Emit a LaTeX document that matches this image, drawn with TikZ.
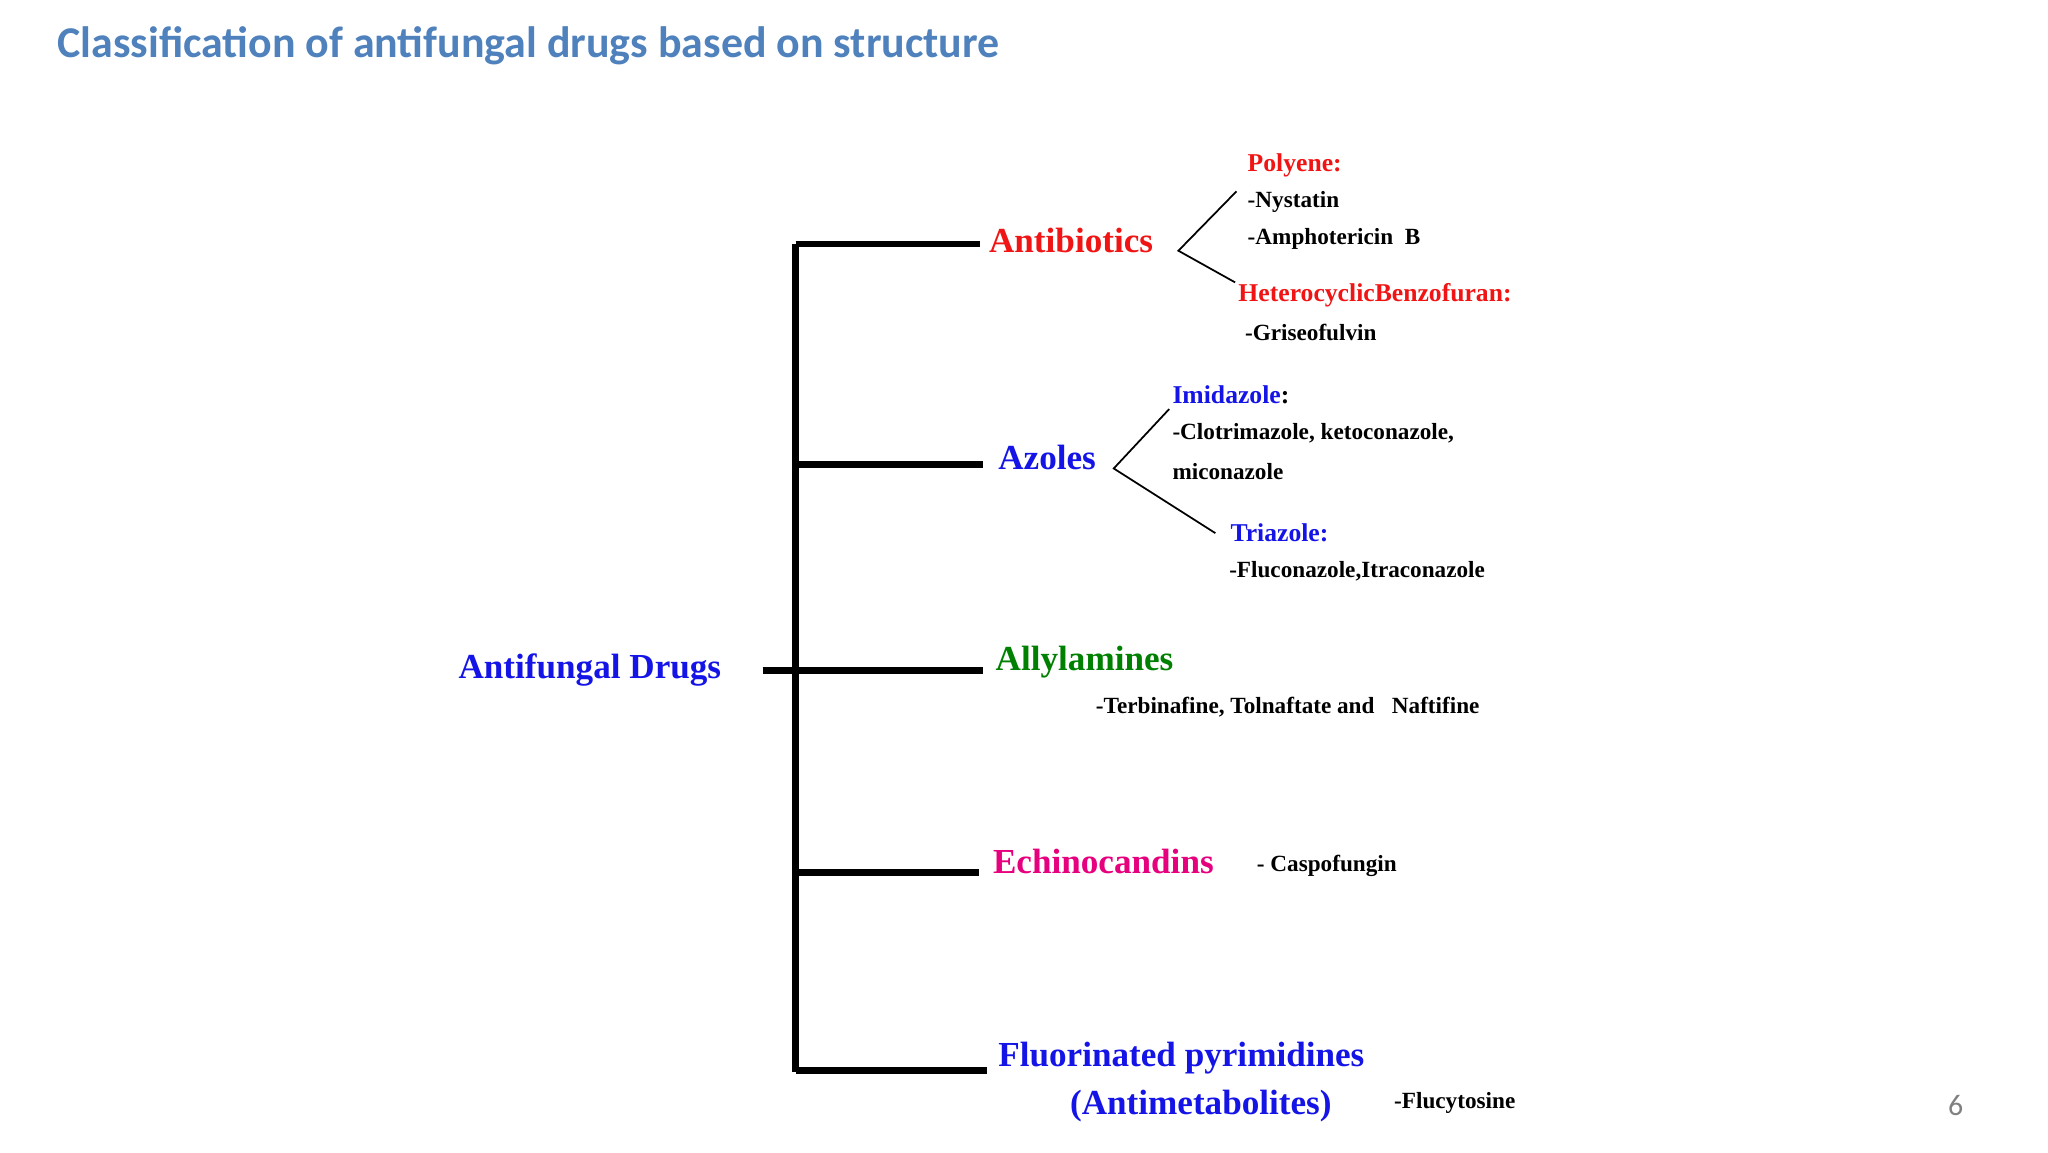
\documentclass[tikz,border=0pt]{standalone}
\usepackage{fontspec}
\setmainfont{Liberation Serif}
\newfontfamily\carl{Carlito}
\definecolor{titleblue}{RGB}{79,129,189}
\definecolor{dblue}{RGB}{20,20,230}
\definecolor{dred}{RGB}{240,20,20}
\definecolor{dgreen}{RGB}{0,128,0}
\definecolor{dpink}{RGB}{230,0,126}
\begin{document}
\begin{tikzpicture}[x=0.013196cm,y=-0.013196cm,
  bar/.style={line width=1.9pt},
  thin/.style={line width=0.5pt},
  big/.style={font=\bfseries\fontsize{10}{12}\selectfont,inner sep=0pt},
  sub/.style={font=\bfseries\fontsize{7.3}{9}\selectfont,inner sep=0pt,anchor=west},
  item/.style={font=\bfseries\fontsize{6.6}{8}\selectfont,inner sep=0pt,anchor=west}]
\useasboundingbox (0,0) rectangle (1552,873);
\node[anchor=west,inner sep=0pt,text=titleblue,font=\carl\bfseries\fontsize{12.5}{14}\selectfont] (title) at (43,35) {Classification of antifungal drugs based on structure};
\node[big,text=dblue] (root) at (447,508) {Antifungal Drugs};
\coordinate (t) at (603,185);
\coordinate (b) at (603,812);
\coordinate (h1) at (743,185);
\coordinate (h2a) at (603,352); \coordinate (h2) at (745,352);
\coordinate (h3a) at (578,508); \coordinate (h3) at (745,508);
\coordinate (h4a) at (600,661); \coordinate (h4) at (742,661);
\coordinate (h5) at (748,811);
\draw[bar] (t) -- (b);
\draw[bar] (t) -- (h1);
\draw[bar] (h2a) -- (h2);
\draw[bar] (h3a) -- (h3);
\draw[bar] (h4a) -- (h4);
\draw[bar] (603,811) -- (h5);
\node[big,anchor=west,text=dred] (anti) at (749,182) {Antibiotics};
\node[big,anchor=west,text=dblue] (azo) at (756,347) {Azoles};
\node[big,anchor=west,text=dgreen] (ally) at (754,502) {Allylamines};
\node[big,anchor=west,text=dpink] (echi) at (752,653) {Echinocandins};
\node[big,anchor=west,text=dblue] (fluo) at (756,802) {Fluorinated pyrimidines};
\node[big,text=dblue] (fluo2) at (910,838) {(Antimetabolites)};
\coordinate (ab) at (893,190);
\coordinate (ab1) at (937,145);
\coordinate (ab2) at (936,214);
\draw[thin] (ab1) -- (ab) -- (ab2);
\node[sub,text=dred] (poly) at (945,125) {Polyene:};
\node[item] (nys) at (945,153) {-Nystatin};
\node[item] (amp) at (945,181) {-Amphotericin\ \ B};
\node[sub,text=dred] (het) at (938,224) {HeterocyclicBenzofuran:};
\node[item] (gri) at (943,252) {-Griseofulvin};
\coordinate (az) at (844,355);
\coordinate (az1) at (886,310);
\coordinate (az2) at (921,404);
\draw[thin] (az1) -- (az) -- (az2);
\node[sub] (imi) at (888,299) {\textcolor{dblue}{Imidazole}:};
\node[item] (clo) at (888,328) {-Clotrimazole, ketoconazole,};
\node[item] (mic) at (888,357) {miconazole};
\node[sub,text=dblue] (tri) at (932,404) {Triazole:};
\node[item] (flu) at (931,433) {-Fluconazole,Itraconazole};
\node[item] (ter) at (830,536) {-Terbinafine,\ Tolnaftate\ and\ \ \ Naftifine};
\node[item] (cas) at (952,656) {- Caspofungin};
\node[item] (fcy) at (1056,836) {-Flucytosine};
\node[inner sep=0pt,text=gray,font=\carl\fontsize{8.5}{10}\selectfont] (pg) at (1482,838) {6};
\end{tikzpicture}
\end{document}
